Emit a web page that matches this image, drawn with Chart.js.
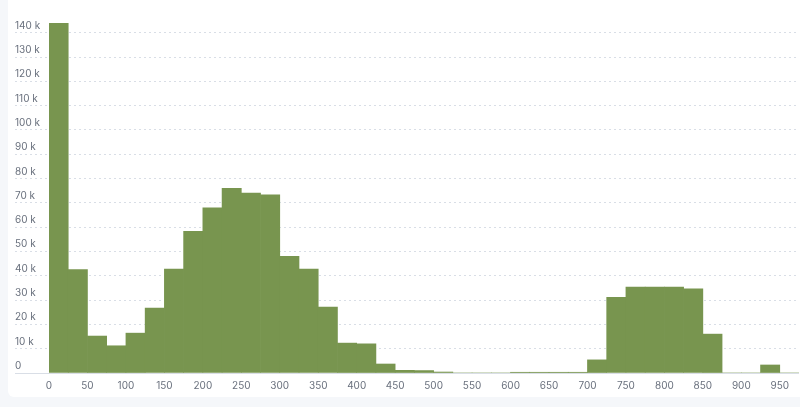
<!DOCTYPE html>
<html>
<head>
<meta charset="utf-8">
<title>Histogram</title>
<script src="https://cdn.jsdelivr.net/npm/chart.js@4"></script>
<style>
    html, body {
        margin: 0;
        padding: 0;
        width: 800px;
        height: 407px;
        background: #f5f7fa;
        overflow: hidden;
    }
    .panel {
        position: absolute;
        left: 8px;
        top: 0;
        width: 792px;
        height: 397px;
        background: #ffffff;
        border-radius: 0 0 0 6px;
    }
</style>
</head>
<body>
<div class="panel">
    <canvas id="chart" width="792" height="397"></canvas>
</div>
<script>
// Début de chaque intervalle (largeur 25)
const binStarts = [0, 25, 50, 75, 100, 125, 150, 175, 200, 225, 250, 275, 300, 325, 350, 375,
    400, 425, 450, 475, 500, 525, 550, 575, 600, 625, 650, 675, 700, 725, 750, 775,
    800, 825, 850, 875, 900, 925, 950];
const binWidth = 25;

// Effectifs
const counts = [144000, 42500, 15200, 11200, 16400, 26700, 42800, 58300, 68000, 76000, 74000, 73300,
    48000, 42800, 27100, 12300, 12000, 3700, 1100, 1000, 400, 0, 0, 0,
    300, 300, 300, 300, 5400, 31100, 35400, 35400, 35300, 34600, 16000, 0, 0, 3300, 0];

const xTicks = [0, 50, 100, 150, 200, 250, 300, 350, 400, 450, 500, 550, 600, 650, 700, 750, 800, 850, 900, 950];
const yTicks = [0, 10000, 20000, 30000, 40000, 50000, 60000, 70000, 80000, 90000, 100000, 110000, 120000, 130000, 140000];

const barColor = '#78954f';
const gridColor = '#d9dee6';
const labelColor = '#69707d';

const points = binStarts.map((start, i) => ({ x: start + binWidth / 2, y: counts[i] }));

document.addEventListener('DOMContentLoaded', () => {
    const ctx = document.getElementById('chart');

    window.histogram = new Chart(ctx, {
        type: 'bar',
        data: {
            datasets: [{
                data: points,
                backgroundColor: barColor,
                borderWidth: 0,
                barPercentage: 1,
                categoryPercentage: 1
            }]
        },
        options: {
            responsive: false,
            animation: false,
            layout: {
                padding: { left: 7, top: 23, right: 1, bottom: 0 }
            },
            plugins: {
                legend: { display: false },
                tooltip: { enabled: false }
            },
            scales: {
                x: {
                    type: 'linear',
                    min: 0,
                    max: 975,
                    offset: false,
                    grid: { display: false, drawTicks: false },
                    border: { display: false },
                    afterBuildTicks: (axis) => {
                        axis.ticks = xTicks.map(v => ({ value: v }));
                    },
                    afterFit: (axis) => {
                        axis.height = 24;
                    },
                    ticks: {
                        padding: 7,
                        color: labelColor,
                        maxRotation: 0,
                        autoSkip: false,
                        font: { family: 'Inter', size: 10 }
                    }
                },
                y: {
                    min: 0,
                    max: 144000,
                    afterBuildTicks: (axis) => {
                        axis.ticks = yTicks.map(v => ({ value: v }));
                    },
                    afterFit: (axis) => {
                        axis.width = 34;
                    },
                    grid: {
                        color: gridColor,
                        tickColor: gridColor,
                        tickLength: 34,
                        lineWidth: 1,
                        tickBorderDash: (c) => (c.tick && c.tick.value === 0 ? [] : [2, 3])
                    },
                    border: {
                        display: false,
                        dash: (c) => (c.tick && c.tick.value === 0 ? [] : [2, 3])
                    },
                    ticks: {
                        crossAlign: 'far',
                        labelOffset: -7,
                        color: labelColor,
                        font: { family: 'Inter', size: 10 },
                        callback: (v) => (v === 0 ? '0' : (v / 1000) + ' k')
                    }
                }
            }
        }
    });
});
</script>
</body>
</html>
